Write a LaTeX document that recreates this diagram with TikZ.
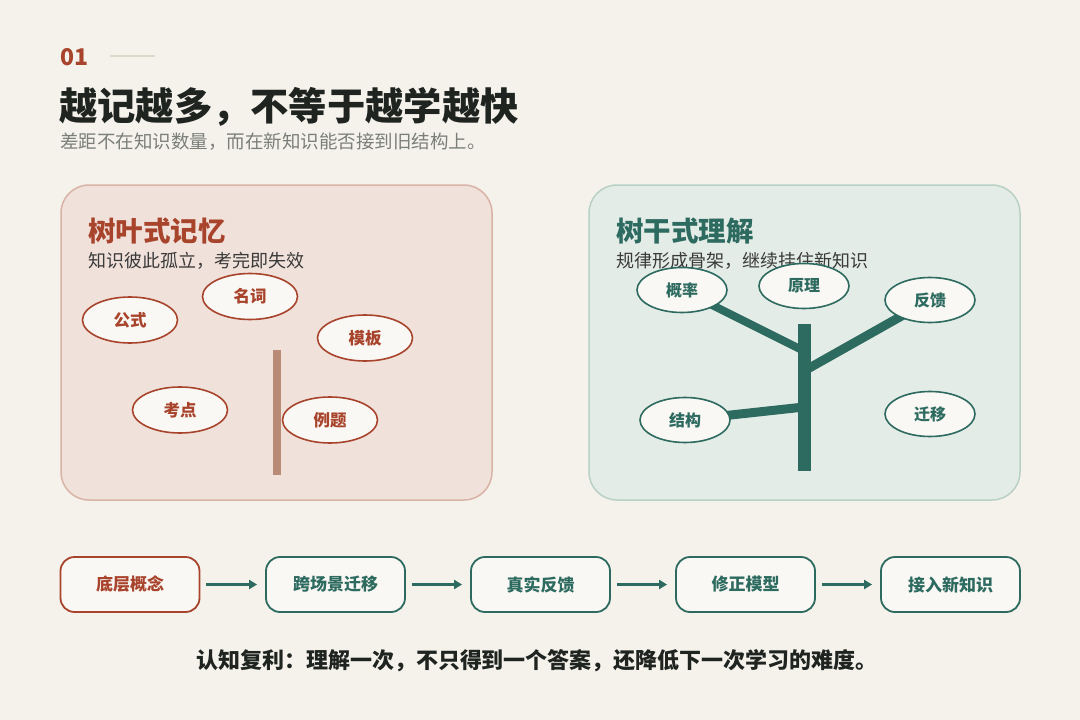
\documentclass[tikz,border=0pt]{standalone}
\usepackage{fontspec}
\setmainfont{Noto Sans CJK SC}
\usetikzlibrary{shapes.geometric,arrows.meta}
\definecolor{bgc}{HTML}{F5F2EB}
\definecolor{rust}{HTML}{A8432C}
\definecolor{teal}{HTML}{2D6A5F}
\definecolor{lpanel}{HTML}{F0E1DA}
\definecolor{lborder}{HTML}{D8B3A6}
\definecolor{rpanel}{HTML}{E4ECE7}
\definecolor{rborder}{HTML}{B9D1C5}
\definecolor{ltrunk}{HTML}{B98A76}
\definecolor{paper}{HTML}{FAF8F4}
\definecolor{ink}{HTML}{1F2421}
\definecolor{graytxt}{HTML}{7B7F79}
\definecolor{subtxt}{HTML}{3A3A3A}
\definecolor{rulec}{HTML}{DDD8CC}
\pgfdeclarelayer{bg}
\pgfdeclarelayer{mid}
\pgfsetlayers{bg,mid,main}
\begin{document}
\begin{tikzpicture}[x=1pt,y=-1pt,
  txt/.style={inner sep=0pt,anchor=west},
  leafL/.style={ellipse,draw=rust,line width=1.6pt,fill=paper,minimum width=95pt,minimum height=46pt,inner sep=0pt,text=rust,font=\fontsize{16.5}{18}\selectfont\bfseries},
  leafR/.style={ellipse,draw=teal,line width=1.6pt,fill=paper,minimum width=90pt,minimum height=45pt,inner sep=0pt,text=teal,font=\fontsize{16}{18}\selectfont\bfseries},
  flowbox/.style={draw=teal,line width=1.8pt,fill=paper,rounded corners=14pt,minimum width=139pt,minimum height=55pt,inner sep=0pt,text=teal,font=\fontsize{17}{19}\selectfont\bfseries},
  flowarrow/.style={teal,line width=3pt,-{Triangle[length=8pt,width=9pt]},shorten <=6pt,shorten >=8pt},
  branch/.style={teal,line cap=butt}
]
\useasboundingbox (0,0) rectangle (1080,720);

% panels and background
\begin{pgfonlayer}{bg}
\fill[bgc] (0,0) rectangle (1080,720);
\draw[fill=lpanel,draw=lborder,line width=1.5pt,rounded corners=28pt] (61,185) rectangle (492,500);
\draw[fill=rpanel,draw=rborder,line width=1.5pt,rounded corners=28pt] (589,185) rectangle (1020,500);
\end{pgfonlayer}

% header
\node[txt,text=rust,font=\fontsize{23}{25}\selectfont\bfseries] (num) at (60,57) {01};
\coordinate (ruleA) at (110,56);
\coordinate (ruleB) at (155,56);
\draw[rulec,line width=1.2pt] (ruleA) -- (ruleB);
\node[txt,text=ink,font=\fontsize{38.3}{41}\selectfont\bfseries] (title) at (59,107) {越记越多，不等于越学越快};
\node[txt,text=graytxt,font=\fontsize{18.5}{20}\selectfont] (sub) at (60,142) {差距不在知识数量，而在新知识能否接到旧结构上。};

% left panel
\node[txt,text=rust,font=\fontsize{27.5}{30}\selectfont\bfseries] (ltitle) at (88,231) {树叶式记忆};
\node[txt,text=subtxt,font=\fontsize{18}{20}\selectfont] (lsub) at (88,261) {知识彼此孤立，考完即失效};
\coordinate (lt1) at (277,350);
\coordinate (lt2) at (277,475);
\begin{pgfonlayer}{mid}
\draw[ltrunk,line width=7.5pt] (lt1) -- (lt2);
\end{pgfonlayer}
\node[leafL] (gongshi) at (130,320) {公式};
\node[leafL] (mingci) at (250,296.5) {名词};
\node[leafL] (muban) at (365,338) {模板};
\node[leafL] (kaodian) at (180,410) {考点};
\node[leafL] (liti) at (330,420) {例题};

% right panel
\node[txt,text=teal,font=\fontsize{27.5}{30}\selectfont\bfseries] (rtitle) at (616,231) {树干式理解};
\node[txt,text=subtxt,font=\fontsize{18}{20}\selectfont] (rsub) at (616,261) {规律形成骨架，继续挂住新知识};
\node[leafR] (gailv) at (682,290) {概率};
\node[leafR] (yuanli) at (804,286) {原理};
\node[leafR] (fankui) at (930,300) {反馈};
\node[leafR] (jiegou) at (685,420) {结构};
\node[leafR] (qianyi) at (930,414) {迁移};
\coordinate (rt1) at (804.7,324);
\coordinate (rt2) at (804.7,471);
\coordinate (rb1) at (804,351);
\coordinate (rb2) at (804,371);
\coordinate (rb3) at (804,407);
\begin{pgfonlayer}{mid}
\draw[branch,line width=8pt] (gailv.center) -- (rb1);
\draw[branch,line width=9pt] (fankui.center) -- (rb2);
\draw[branch,line width=9pt] (jiegou.center) -- (rb3);
\draw[teal,line width=12.7pt] (rt1) -- (rt2);
\end{pgfonlayer}

% flow
\node[flowbox,draw=rust,text=rust] (f1) at (130,584.5) {底层概念};
\node[flowbox] (f2) at (335.5,584.5) {跨场景迁移};
\node[flowbox] (f3) at (540.5,584.5) {真实反馈};
\node[flowbox] (f4) at (745.5,584.5) {修正模型};
\node[flowbox] (f5) at (950.5,584.5) {接入新知识};
\draw[flowarrow] (f1) -- (f2);
\draw[flowarrow] (f2) -- (f3);
\draw[flowarrow] (f3) -- (f4);
\draw[flowarrow] (f4) -- (f5);

\node[inner sep=0pt,text=ink,font=\fontsize{22}{24}\selectfont\bfseries] (foot) at (537,661) {认知复利：理解一次，不只得到一个答案，还降低下一次学习的难度。};
\end{tikzpicture}
\end{document}
